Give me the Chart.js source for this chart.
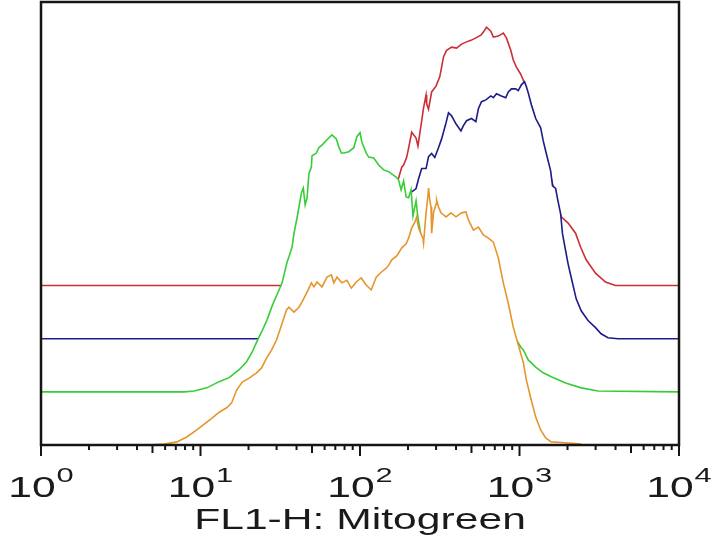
<!DOCTYPE html>
<html>
<head>
<meta charset="utf-8">
<script src="https://cdn.jsdelivr.net/npm/chart.js@4.4.0/dist/chart.umd.min.js"></script>
<style>
  html, body { margin: 0; padding: 0; background: #fff; }
</style>
</head>
<body>
<canvas id="myChart" width="720" height="540"></canvas>
<script>
const redChannel = [0, 398, 430, 478, 526, 562, 574, 579, 582, 587, 590, 595, 602, 605, 610, 614, 618, 619, 622, 627, 634, 640, 643, 646, 651, 659, 667, 675, 683, 691, 698, 706, 710, 715, 722, 726, 734, 742, 747, 754, 758, 763, 770, 774, 782, 798, 814, 827, 835, 846, 858, 866, 875, 890, 906, 922, 1023];
const redCount = [0, 0, 1.2, 4.6, 11.4, 20.4, 24.3, 26.7, 27.2, 29.0, 31.0, 34.6, 33.3, 31.5, 36.2, 40.1, 43.0, 41.0, 39.8, 43.7, 45.0, 47.1, 49.3, 51.6, 53.1, 53.8, 53.6, 54.5, 55.0, 55.4, 55.9, 56.5, 57.2, 58.3, 57.4, 56.1, 56.3, 57.0, 55.9, 53.1, 50.9, 49.3, 47.7, 46.4, 43.0, 35.5, 27.2, 19.3, 15.5, 14.1, 11.8, 8.7, 5.8, 2.8, 0.8, 0, 0];

const blueChannel = [0, 354, 374, 414, 462, 510, 550, 574, 587, 594, 602, 606, 611, 618, 622, 627, 632, 638, 643, 650, 654, 659, 666, 674, 678, 683, 691, 698, 702, 707, 714, 722, 726, 731, 739, 746, 750, 755, 762, 766, 771, 776, 779, 782, 787, 794, 802, 806, 811, 818, 821, 826, 829, 834, 837, 842, 846, 851, 859, 867, 878, 890, 899, 910, 926, 1023];
const blueCount = [0, 0, 2.3, 8.6, 14.2, 19.8, 25.4, 29.3, 30.5, 33.0, 33.9, 36.1, 38.4, 38.4, 41.1, 41.8, 40.9, 43.1, 45.1, 48.7, 51.0, 50.3, 48.5, 46.9, 48.1, 49.2, 49.7, 49.0, 51.9, 53.5, 53.9, 54.8, 54.4, 55.3, 54.8, 54.4, 55.7, 56.4, 56.4, 56.0, 57.3, 58.0, 56.9, 55.5, 52.8, 49.7, 47.6, 44.7, 41.8, 37.9, 34.5, 33.9, 31.6, 28.2, 23.7, 19.9, 16.9, 13.8, 9.0, 6.3, 4.1, 2.5, 1.1, 0.2, 0, 0];

const greenChannel = [0, 230, 246, 266, 286, 302, 318, 330, 339, 347, 355, 363, 371, 378, 382, 387, 390, 395, 398, 403, 406, 411, 418, 421, 424, 427, 430, 434, 435, 442, 446, 451, 459, 467, 474, 478, 482, 486, 494, 502, 507, 512, 515, 522, 526, 534, 542, 550, 558, 570, 574, 578, 582, 586, 590, 594, 597, 602, 605, 611, 626, 654, 694, 734, 758, 771, 774, 782, 794, 806, 819, 842, 867, 894, 1023];
const greenCount = [0, 0, 0.2, 0.9, 2.3, 3.2, 5.0, 6.8, 9.0, 11.5, 13.8, 16.3, 19.4, 21.7, 23.0, 24.6, 26.4, 29.3, 30.5, 32.7, 35.7, 39.3, 44.9, 46.0, 42.2, 43.8, 49.2, 50.8, 53.3, 53.9, 55.1, 55.7, 56.9, 58.0, 57.1, 55.3, 53.9, 53.9, 54.2, 55.1, 57.6, 58.5, 56.4, 53.9, 53.0, 52.8, 51.2, 50.1, 49.7, 48.5, 47.8, 45.6, 47.6, 44.0, 43.8, 45.6, 39.7, 43.1, 39.3, 34.3, 30.2, 26.4, 21.9, 16.7, 12.9, 9.9, 9.5, 7.2, 5.6, 4.3, 3.4, 2.0, 0.9, 0.2, 0];

const orangeChannel = [0, 170, 198, 218, 234, 250, 262, 275, 286, 298, 306, 314, 323, 334, 346, 354, 362, 370, 378, 387, 394, 398, 406, 414, 419, 427, 434, 438, 443, 451, 459, 466, 470, 475, 483, 491, 498, 506, 514, 522, 530, 538, 546, 554, 558, 563, 571, 579, 586, 590, 595, 600, 603, 606, 610, 613, 614, 618, 621, 622, 624, 626, 627, 630, 634, 635, 638, 642, 650, 658, 666, 675, 682, 686, 694, 702, 710, 718, 726, 734, 742, 750, 758, 766, 774, 779, 786, 794, 802, 810, 819, 842, 867];
const orangeCount = [0, 0, 0.2, 0.7, 1.8, 3.4, 4.7, 6.1, 7.4, 8.4, 9.5, 12.4, 14.2, 15.1, 16.3, 17.4, 19.6, 21.4, 23.7, 27.5, 30.5, 31.1, 30.0, 31.1, 32.3, 34.5, 36.6, 35.7, 36.8, 35.7, 37.9, 38.4, 36.6, 37.9, 36.6, 37.2, 35.4, 36.8, 37.7, 36.1, 35.0, 37.9, 39.0, 39.9, 40.6, 41.8, 42.7, 44.5, 45.4, 46.7, 49.0, 50.3, 51.5, 49.0, 47.6, 46.7, 45.6, 52.4, 56.2, 58.0, 55.3, 53.7, 47.8, 52.4, 54.4, 55.3, 53.7, 52.4, 51.5, 52.4, 51.5, 52.4, 52.6, 50.8, 48.5, 49.2, 47.4, 46.7, 45.8, 42.2, 36.6, 32.0, 26.6, 22.6, 18.7, 14.7, 10.6, 6.3, 3.4, 1.6, 0.7, 0.5, 0.2];

// vertical offsets of the stacked histograms: red, blue, green, orange
const baselineOffsets = [36, 24, 12, 0];

const decades = [1, 10, 100, 1000, 10000];
const tickExponents = ['0', '1', '2', '3', '4'];
const axisTitle = 'FL1-H: Mitogreen';

function toPoints(channels, counts, offset) {
  let pts = [];
  for (let i = 0; i < channels.length; i++) {
    pts.push({ x: Math.pow(10, channels[i] / 256), y: counts[i] + offset });
  }
  return pts;
}

function histogram(label, channels, counts, offset, color, order) {
  return {
    label: label,
    data: toPoints(channels, counts, offset),
    borderColor: color,
    backgroundColor: '#ffffff',
    borderWidth: 1.6,
    fill: 'start',
    pointRadius: 0,
    tension: 0,
    order: order
  };
}

// text in the source figure is horizontally stretched
const stretch = 1.47;

const axisPlugin = {
  id: 'axisPlugin',
  afterDraw(chart) {
    const ctx = chart.ctx;
    const area = chart.chartArea;
    const xs = chart.scales.x;
    ctx.save();
    ctx.strokeStyle = '#151515';
    ctx.lineWidth = 2.5;
    ctx.strokeRect(area.left, area.top, area.right - area.left, area.bottom - area.top);

    // tick marks: decades long, fives medium, others short
    ctx.lineWidth = 2;
    for (let d = 0; d < decades.length; d++) {
      for (let m = 1; m <= 9; m++) {
        const v = decades[d] * m;
        if (v > decades[decades.length - 1]) break;
        const len = m === 1 ? 11 : (m === 5 ? 8 : 5);
        const px = xs.getPixelForValue(v);
        ctx.beginPath();
        ctx.moveTo(px, area.bottom);
        ctx.lineTo(px, area.bottom + len);
        ctx.stroke();
      }
    }

    // decade labels 10^n
    ctx.fillStyle = '#1a1a1a';
    ctx.textBaseline = 'alphabetic';
    ctx.textAlign = 'left';
    const baseFont = '29px "Liberation Sans", Arial, sans-serif';
    const supFont = '21px "Liberation Sans", Arial, sans-serif';
    for (let i = 0; i < decades.length; i++) {
      const px = xs.getPixelForValue(decades[i]);
      ctx.font = baseFont;
      const wBase = ctx.measureText('10').width * stretch;
      ctx.font = supFont;
      const wSup = ctx.measureText(tickExponents[i]).width * stretch;
      const x0 = px - (wBase + wSup + 1) / 2;
      ctx.save();
      ctx.translate(x0, area.bottom + 52);
      ctx.scale(stretch, 1);
      ctx.font = baseFont;
      ctx.fillText('10', 0, 0);
      ctx.restore();
      ctx.save();
      ctx.translate(x0 + wBase + 1, area.bottom + 37);
      ctx.scale(stretch, 1);
      ctx.font = supFont;
      ctx.fillText(tickExponents[i], 0, 0);
      ctx.restore();
    }

    // axis title
    ctx.font = '29px "Liberation Sans", Arial, sans-serif';
    const wTitle = ctx.measureText(axisTitle).width * stretch;
    ctx.save();
    ctx.translate((area.left + area.right) / 2 - wTitle / 2, area.bottom + 84);
    ctx.scale(stretch, 1);
    ctx.fillText(axisTitle, 0, 0);
    ctx.restore();
    ctx.restore();
  }
};

const ctx = document.getElementById('myChart').getContext('2d');
const chart = new Chart(ctx, {
  type: 'line',
  data: {
    datasets: [
      histogram('Red', redChannel, redCount, baselineOffsets[0], 'rgb(205, 45, 55)', 4),
      histogram('Blue', blueChannel, blueCount, baselineOffsets[1], 'rgb(28, 28, 135)', 3),
      histogram('Green', greenChannel, greenCount, baselineOffsets[2], 'rgb(55, 205, 55)', 2),
      histogram('Orange', orangeChannel, orangeCount, baselineOffsets[3], 'rgb(228, 150, 45)', 1)
    ]
  },
  options: {
    responsive: false,
    animation: false,
    layout: { padding: { left: 41, right: 41, top: 2, bottom: 95 } },
    plugins: {
      legend: { display: false },
      tooltip: { enabled: false },
      filler: { drawTime: 'beforeDatasetDraw' }
    },
    scales: {
      x: { type: 'logarithmic', min: 1, max: 10000, display: false },
      y: { type: 'linear', min: 0, max: 100, display: false }
    }
  },
  plugins: [axisPlugin]
});
</script>
</body>
</html>
